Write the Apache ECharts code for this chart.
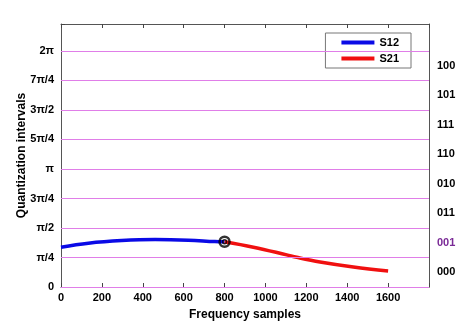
<!DOCTYPE html>
<html><head><meta charset="utf-8">
<script src="https://cdn.jsdelivr.net/npm/echarts@6/dist/echarts.min.js"></script>
<style>html,body{margin:0;padding:0;background:#fff}#c{width:474px;height:323px}</style>
</head><body><div id="c"></div>
<script>
const xS12 = [0, 134, 297, 460, 623, 753, 800];
const yS12 = [1.06, 1.167, 1.237, 1.264, 1.247, 1.21, 1.205];
const xS21 = [800, 941, 1104, 1153, 1267, 1430, 1600];
const yS21 = [1.205, 1.06, 0.855, 0.79, 0.668, 0.534, 0.427];
const leftLabels = ['0', 'π/4', 'π/2', '3π/4', 'π', '5π/4', '3π/2', '7π/4', '2π'];
const rightLabels = ['000', '001', '011', '010', '110', '111', '101', '100'];
const gridLevels = [0, 1, 2, 3, 4, 5, 6, 7, 8];
const markerPoint = [[800, 1.205]];

const Q = Math.PI / 4;
const font = 'Liberation Sans, Arial, sans-serif';
const chart = echarts.init(document.getElementById('c'));
chart.setOption({
  animation: false,
  grid: {left: 61, right: 45, top: 24, bottom: 36, containLabel: false, outerBoundsMode: 'none'},
  legend: {
    right: 63, top: 33, orient: 'vertical', itemGap: 5, itemWidth: 33, itemHeight: 4,
    padding: [4, 12, 4, 16], borderColor: '#777', borderWidth: 1, backgroundColor: '#fff',
    data: [{name: 'S12', icon: 'rect'}, {name: 'S21', icon: 'rect'}],
    textStyle: {fontFamily: font, fontWeight: 'bold', fontSize: 11, color: '#000'}
  },
  xAxis: [{
    type: 'value', min: 0, max: 1800, interval: 200,
    name: 'Frequency samples', nameLocation: 'middle', nameGap: 22, nameMoveOverlap: false,
    nameTextStyle: {fontFamily: font, fontWeight: 'bold', fontSize: 12, color: '#000'},
    axisLine: {show: true, onZero: false, lineStyle: {color: '#555'}},
    axisTick: {show: true, inside: true, length: 4, lineStyle: {color: '#444'}},
    axisLabel: {fontFamily: font, fontWeight: 'bold', fontSize: 11, color: '#000', margin: 5,
      formatter: v => v > 1600 ? '' : String(v)},
    splitLine: {show: false}
  }, {
    type: 'value', min: 0, max: 1800, interval: 200, position: 'top',
    axisLine: {show: true, onZero: false, lineStyle: {color: '#555'}},
    axisTick: {show: true, inside: true, length: 4, lineStyle: {color: '#444'}},
    axisLabel: {show: false}, splitLine: {show: false}
  }],
  yAxis: [{
    type: 'value', min: 0, max: 7, interval: Q,
    name: 'Quantization intervals', nameLocation: 'middle', nameGap: 33, nameMoveOverlap: false,
    nameTextStyle: {fontFamily: font, fontWeight: 'bold', fontSize: 12, color: '#000'},
    axisLine: {show: true, onZero: false, lineStyle: {color: '#555'}},
    axisTick: {show: true, inside: true, length: 4, lineStyle: {color: '#444'}},
    axisLabel: {fontFamily: font, fontWeight: 'bold', fontSize: 11, color: '#000', margin: 7,
      formatter: v => { const k = Math.round(v / Q); return k <= 8 ? leftLabels[k] : ''; }},
    splitLine: {show: false}
  }, {
    type: 'value', min: 0, max: 7, interval: Q / 2, position: 'right',
    axisLine: {show: true, onZero: false, lineStyle: {color: '#555'}},
    axisTick: {show: false},
    axisLabel: {fontFamily: font, fontWeight: 'bold', fontSize: 11, margin: 8,
      formatter: v => { const k = Math.round(v / (Q / 2)); if (k % 2 === 1 && (k - 1) / 2 < 8) return (k === 3 ? '{p|' : '{b|') + rightLabels[(k - 1) / 2] + '}'; return ''; },
      rich: {b: {color: '#000', fontFamily: font, fontWeight: 'bold', fontSize: 11},
             p: {color: '#7a2a96', fontFamily: font, fontSize: 11}}},
    splitLine: {show: false}
  }],
  series: [{
    name: 'S12', type: 'line', data: xS12.map((x, i) => [x, yS12[i]]), smooth: 0.4,
    showSymbol: false, lineStyle: {color: '#0a0ae6', width: 3.5}, itemStyle: {color: '#0a0ae6'}, z: 3,
    markLine: {silent: true, symbol: 'none', label: {show: false}, animation: false,
      lineStyle: {color: '#e07ee8', width: 1.2, type: 'solid'},
      data: gridLevels.map(k => ({yAxis: k * Q}))}
  }, {
    name: 'S21', type: 'line', data: xS21.map((x, i) => [x, yS21[i]]), smooth: 0.4,
    showSymbol: false, lineStyle: {color: '#f01010', width: 3.5}, itemStyle: {color: '#f01010'}, z: 3
  }, {
    type: 'scatter', data: markerPoint, symbol: 'circle', symbolSize: 10,
    itemStyle: {color: 'transparent', borderColor: '#000', borderWidth: 2.5}, z: 5
  }, {
    type: 'scatter', data: markerPoint, symbol: 'circle', symbolSize: 4,
    itemStyle: {color: 'transparent', borderColor: '#000', borderWidth: 1.5}, z: 5
  }]
});
</script></body></html>
